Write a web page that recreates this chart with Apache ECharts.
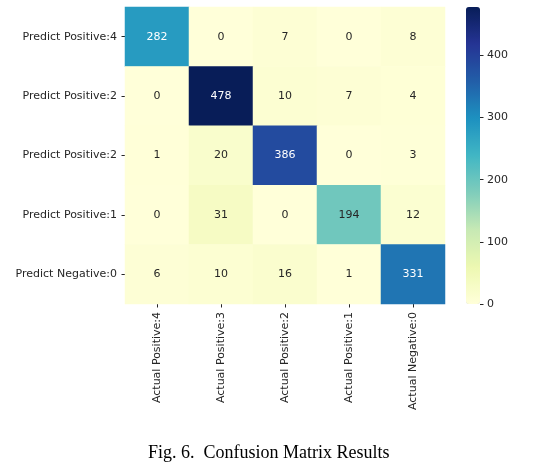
<!DOCTYPE html>
<html>
<head>
<meta charset="utf-8">
<script src="https://cdn.jsdelivr.net/npm/echarts@6/dist/echarts.min.js"></script>
<style>
html,body{margin:0;padding:0;background:#fff;}
#chart{width:533px;height:467px;}
</style>
</head>
<body>
<div id="chart"></div>
<script>
const colLabels = ['Actual Positive:4','Actual Positive:3','Actual Positive:2','Actual Positive:1','Actual Negative:0'];
const rowLabels = ['Predict Positive:4','Predict Positive:2','Predict Positive:2','Predict Positive:1','Predict Negative:0'];
const row0 = [282, 0, 7, 0, 8];
const row1 = [0, 478, 10, 7, 4];
const row2 = [1, 20, 386, 0, 3];
const row3 = [0, 31, 0, 194, 12];
const row4 = [6, 10, 16, 1, 331];
const colorbarStep = 100;
const caption = 'Fig. 6.  Confusion Matrix Results';

const matrix = [row0, row1, row2, row3, row4];
const vMin = 0, vMax = 478;
const data = [];
matrix.forEach((row, i) => row.forEach((v, j) => {
  data.push({value: [j, i, v], label: {color: v > 250 ? '#ffffff' : '#262626'}});
}));

const txt = {fontFamily: 'DejaVu Sans', fontSize: 11, color: '#262626'};
const tickStyle = {color: '#262626', width: 1};
const chart = echarts.init(document.getElementById('chart'), null, {renderer: 'canvas'});
chart.setOption({
  animation: false,
  backgroundColor: '#ffffff',
  title: {
    text: caption, left: 148, top: 444, padding: 0,
    textStyle: {fontFamily: 'Liberation Serif', fontSize: 18, fontWeight: 'normal', color: '#000'}
  },
  grid: [
    {left: 125, top: 7, width: 320, height: 297},
    {left: 480, top: 7, width: 1, height: 297}
  ],
  xAxis: [
    {type: 'category', gridIndex: 0, data: colLabels, position: 'bottom',
     axisLine: {show: false}, splitLine: {show: false},
     axisTick: {show: true, alignWithLabel: true, length: 3.5, lineStyle: tickStyle},
     axisLabel: Object.assign({rotate: 90, margin: 8, interval: 0}, txt)},
    {type: 'value', gridIndex: 1, show: false, min: 0, max: 1}
  ],
  yAxis: [
    {type: 'category', gridIndex: 0, data: rowLabels, inverse: true,
     axisLine: {show: false}, splitLine: {show: false},
     axisTick: {show: true, alignWithLabel: true, length: 3.5, lineStyle: tickStyle},
     axisLabel: Object.assign({margin: 8, interval: 0}, txt)},
    {type: 'value', gridIndex: 1, position: 'right', min: vMin, max: vMax, interval: colorbarStep, z: 10,
     axisLine: {show: false}, splitLine: {show: false},
     axisTick: {show: true, inside: false, length: 3.5, lineStyle: tickStyle},
     axisLabel: Object.assign({margin: 6, showMaxLabel: false}, txt)}
  ],
  visualMap: {
    type: 'continuous', min: vMin, max: vMax, seriesIndex: 0, z: 1,
    calculable: false, hoverLink: false, orient: 'vertical',
    left: 466, top: 7, itemWidth: 14, itemHeight: 297, padding: 0,
    text: null, showLabel: false,
    inRange: {color: ['#ffffd9','#edf8b1','#c7e9b4','#7fcdbb','#41b6c4','#1d91c0','#225ea8','#253494','#081d58']}
  },
  series: [{
    type: 'heatmap', xAxisIndex: 0, yAxisIndex: 0, data: data,
    label: {show: true, fontFamily: 'DejaVu Sans', fontSize: 11, formatter: p => String(p.value[2])},
    itemStyle: {borderWidth: 0},
    emphasis: {disabled: true}
  }]
});
</script>
</body>
</html>
